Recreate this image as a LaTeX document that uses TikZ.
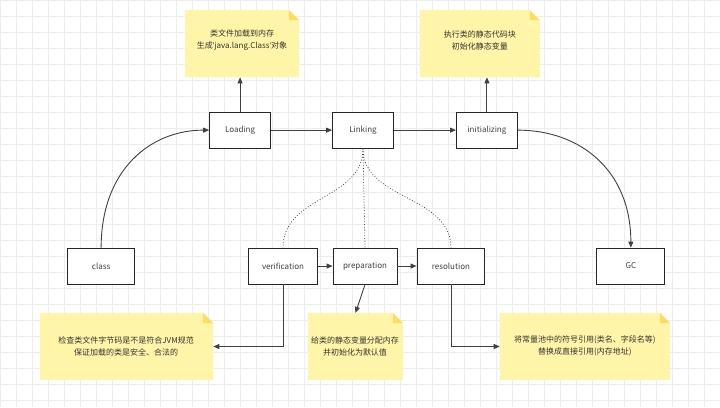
\documentclass[tikz,border=0pt]{standalone}
\usepackage{fontspec}
\setmainfont{Noto Sans CJK SC}
\newfontfamily\latf{Liberation Sans}
\usetikzlibrary{arrows.meta}
\begin{document}
\begin{tikzpicture}[x=1pt,y=-1pt,
  box/.style={draw=black!85,line width=0.9pt,fill=white,minimum width=61pt,minimum height=36pt,font=\fontsize{8}{9}\selectfont,text=black!75},
  arr/.style={draw=black!75,line width=0.9pt,-{Triangle[length=6pt,width=5pt]}},
  dot/.style={draw=black!75,line width=0.8pt,dotted},
  notet/.style={font=\fontsize{8}{12}\selectfont,align=center,text=black!80}]
\fill[white] (0,0) rectangle (720,407);
\foreach \gx in {0,16,...,720} \draw[black!7,line width=0.4pt] (\gx,0) -- (\gx,407);
\foreach \gy in {0,16,...,400} \draw[black!7,line width=0.4pt] (0,\gy) -- (720,\gy);
\useasboundingbox (0,0) rectangle (720,407);
\newcommand{\stickynote}[5]{%
 \fill[yellow!30!white!95!orange] (#1,#2) -- (#3-10,#2) -- (#3,#2+10) -- (#3,#4) -- (#1,#4) -- cycle;
 \fill[yellow!60!orange!60!white] (#3-10,#2) -- (#3,#2+10) -- (#3-10,#2+10) -- cycle;
 \node[notet,minimum width=#3-#1,minimum height=#4-#2] (#5) at ({(#1+#3)/2},{(#2+#4)/2}) {};}
\stickynote{185}{10}{299}{77}{n1}
\stickynote{420}{10}{540}{77}{n2}
\stickynote{40}{313}{213}{380}{n3}
\stickynote{308}{313}{403}{380}{n4}
\stickynote{500}{313}{670}{380}{n5}
\node[notet] at (242,40) {类文件加载到内存\\生成{\latf '}java.lang.Class{\latf '}对象};
\node[notet] at (480,40) {执行类的静态代码块\\初始化静态变量};
\node[notet] at (126,346) {检查类文件字节码是不是符合JVM规范\\保证加载的类是安全、合法的};
\node[notet] at (355,346) {给类的静态变量分配内存\\并初始化为默认值};
\node[notet] at (585,346) {将常量池中的符号引用(类名、字段名等)\\替换成直接引用(内存地址)};
\node[box] (load) at (240,130) {Loading};
\node[box] (link) at (363,130) {Linking};
\node[box] (init) at (487,130) {initializing};
\node[box,minimum width=67pt] (cls) at (101,266) {class};
\node[box,minimum width=69pt] (ver) at (283,266) {verification};
\node[box,minimum width=64pt] (prep) at (365,266) {preparation};
\node[box,minimum width=68pt] (res) at (451,266) {resolution};
\node[box,minimum width=68pt] (gc) at (631,266) {GC};
\draw[arr] (load) -- (link);
\draw[arr] (link) -- (init);
\draw[arr] (load.north) -- (load.north |- n1.south);
\draw[arr] (init.north) -- (init.north |- n2.south);
\draw[arr] (cls.north) .. controls (101,170) and (150,130) .. (load.west);
\draw[arr] (init.east) .. controls (580,130) and (631,170) .. (gc.north);
\draw[dot] (link.south) .. controls (363,200) and (283,195) .. (ver.north);
\draw[dot] (link.south) -- (prep.north);
\draw[dot] (link.south) .. controls (363,200) and (451,195) .. (res.north);
\draw[arr] (ver) -- (prep);
\draw[arr] (prep) -- (res);
\draw[arr] (ver.south) |- (n3.east);
\draw[arr] (prep.south) -- (n4.north);
\draw[arr] (res.south) |- (n5.west);
\end{tikzpicture}
\end{document}
